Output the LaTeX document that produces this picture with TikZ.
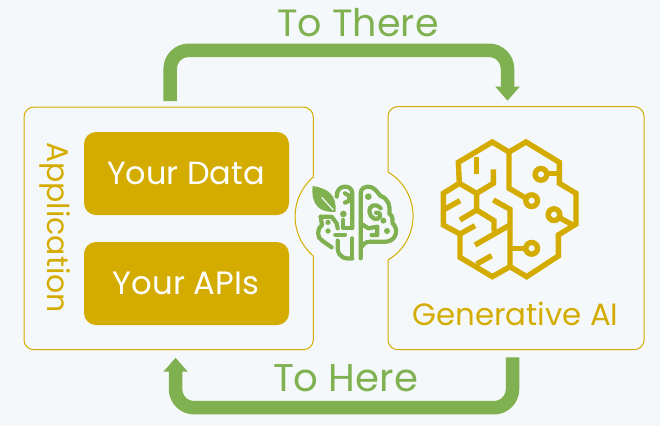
\documentclass[tikz,border=0pt]{standalone}
\usepackage{fontspec}
\usetikzlibrary{arrows.meta}
\setmainfont{Poppins}
\definecolor{bgc}{HTML}{F4F8FB}
\definecolor{gold}{HTML}{D4AC00}
\definecolor{leaf}{HTML}{7FB151}
\tikzset{
  boxline/.style={draw=gold,line width=1pt},
  inner/.style={draw=none,fill=gold,rounded corners=12pt,minimum width=205pt,minimum height=83pt,inner sep=0pt},
  flow/.style={draw=leaf,line width=13.5pt,rounded corners=18.5pt,-{Triangle[length=14pt,width=23.5pt,sep=0pt]}},
  flowlabel/.style={text=leaf,anchor=base,inner sep=0pt},
  goldlabel/.style={text=gold,anchor=base,inner sep=0pt},
  whitelabel/.style={text=white,anchor=base,inner sep=0pt},
  bigb/.style={draw=gold,line width=5.4pt,line join=miter,fill=none},
  smallb/.style={draw=leaf,line width=4.2pt,line join=round,line cap=round,fill=none},
  smalldot/.style={fill=leaf,draw=none},
}
\newcommand{\fsz}[1]{\fontsize{#1}{#1}\selectfont}
\begin{document}
\begin{tikzpicture}[x=1pt,y=-1pt]
\useasboundingbox[fill=bgc] (0,0) rectangle (660,426);
% application box
\draw[boxline] (34,107) -- (303,107) to[out=0,in=90,looseness=1] (313.3,117) -- (313.3,177)
  .. controls (289,197.9) and (289,235.1) .. (313.3,256) -- (313.3,340) to[out=-90,in=0] (303,349.7) -- (34,349.7) to[out=180,in=-90] (24,340) -- (24,117) to[out=90,in=180] (34,107) -- cycle;
% generative box
\draw[boxline] (398,106.5) -- (634,106.5) to[out=0,in=90] (644,116.5) -- (644,340) to[out=-90,in=0] (634,349.7) -- (398,349.7) to[out=180,in=-90] (388,340) -- (388,260)
  .. controls (421.4,240.1) and (421.4,191.9) .. (388,172) -- (388,116.5) to[out=90,in=180] (398,106.5) -- cycle;
% inner boxes
\node[inner] (data) at (186.5,173.5) {};
\node[inner] (apis) at (186.5,283.5) {};
\node[whitelabel,font=\fsz{32}] (datat) at (186,184) {Your Data};
\node[whitelabel,font=\fsz{32.3}] (apist) at (186,294) {Your APIs};
\node[goldlabel,font=\fsz{30},rotate=-90] (applabel) at (47.5,227.5) {Application};
\node[goldlabel,font=\fsz{30.8}] (genlabel) at (515.5,325) {Generative AI};
\node[flowlabel,font=\fsz{38}] (there) at (358,36) {To There};
\node[flowlabel,font=\fsz{38.6}] (here) at (345.5,391) {To Here};
% connectors
\coordinate (appTop) at (170.2,101);
\coordinate (genTop) at (507.5,100.7);
\coordinate (genBot) at (512.5,357.3);
\coordinate (appBot) at (175.6,357.7);
\draw[flow] (appTop) -- (170.2,50.3) -- (507.5,50.3) -- (genTop);
\draw[flow] (genBot) -- (512.5,407.7) -- (175.6,407.7) -- (appBot);
% big brain
\begin{scope}[shift={(430,130)},x=0.3333pt,y=-0.3333pt]
\draw[bigb] (85,97)--(187,36)--(237,66)--(288,36)--(388,97)--(388,160)--(438,190)--(438,282)--(385,315)--(385,378)--(290,440)--(240,410)--(187,440)--(90,382)--(90,312)--(40,285)--(40,190)--(88,160)--cycle;
\draw[bigb] (140,80)--(140,132);
\draw[bigb] (190,118)--(190,160)--(140,190)--(88,160);
\draw[bigb] (140,190)--(140,240)--(90,270);
\draw[bigb] (140,240)--(192,272)--(192,305);
\draw[bigb] (135,345)--(240,285);
\draw[bigb] (40,240)--(90,212);
\draw[bigb] (90,312)--(135,287);
\draw[bigb] (140,402)--(185,377);
\draw[bigb] (237,66)--(237,175)--(285,203);
\draw[bigb] (190,210)--(240,238)--(240,410);
\draw[bigb] (350,130)--(388,130);
\draw[bigb] (390,264)--(432,287);
\draw[bigb] (240,355)--(285,355);
\foreach \p in {(333,133),(305,212),(372,254),(305,355)}
  \draw[bigb] \p circle[radius=17.5];
\end{scope}
% small brain
\begin{scope}[shift={(290,160)},x=0.3333pt,y=-0.3333pt]
\fill[leaf] (68,78) .. controls (115,85) and (140,105) .. (137,155) .. controls (90,160) and (62,135) .. (68,78) -- cycle;
\draw[bgc,line width=1.2pt] (95,112) -- (130,150);
\draw[smallb] (212,295)--(212,100) .. controls (212,85) and (225,80) .. (235,80) .. controls (258,82) and (262,100) .. (272,108) .. controls (295,115) and (302,140) .. (298,160) .. controls (312,170) and (306,185) .. (308,190) .. controls (325,205) and (322,240) .. (290,245) -- (240,245) .. controls (225,245) and (218,255) .. (212,265);
\draw[smallb] (212,190)--(235,205)--(262,200)--(262,225)--(245,225);
\draw[smallb] (272,145) .. controls (255,125) and (235,140) .. (238,155) .. controls (240,175) and (262,185) .. (270,170) .. controls (272,160) and (265,155) .. (258,158);
\draw[smallb] (187,295)--(187,235);
\draw[smallb] (187,295) .. controls (170,298) and (145,295) .. (143,265) -- (143,242);
\draw[smallb] (187,200)--(187,100) .. controls (187,85) and (175,80) .. (165,80) .. controls (150,80) and (140,90) .. (140,110);
\draw[smallb] (165,100)--(178,108)--(178,122)--(165,128);
\draw[smallb] (160,180)--(160,205)--(187,205);
\draw[smallb] (136,225)--(165,225);
\draw[smallb] (92,170)--(125,170)--(140,190)--(143,205);
\draw[smallb] (92,170)--(96,195) .. controls (80,205) and (80,235) .. (98,243) -- (125,262);
\foreach \p/\r in {(235,110)/10,(280,182)/9,(291,213)/9,(160,162)/10,(114,187)/8,(114,213)/8}
  \fill[smalldot] \p circle[radius=\r];
\end{scope}
\end{tikzpicture}
\end{document}
